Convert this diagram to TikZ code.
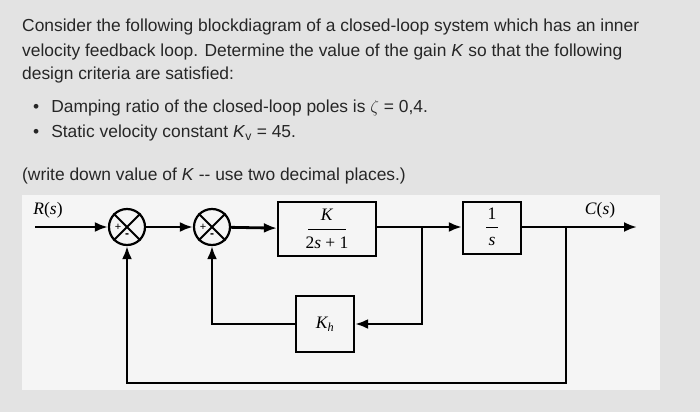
\documentclass[tikz,border=0pt]{standalone}
\usepackage{fontspec}
\setmainfont{Liberation Sans}
\newfontfamily\serifit{Liberation Serif}
\usetikzlibrary{arrows.meta}
\begin{document}
\begin{tikzpicture}[x=1pt,y=-1pt,
  txt/.style={anchor=west,inner sep=0pt,font=\fontsize{17.4}{20}\selectfont,text=black!85},
  blk/.style={draw,line width=2.2pt,inner sep=0pt},
  sig/.style={line width=2.8pt,-{Latex[length=13pt,width=10pt]}},
  sumc/.style={draw,circle,line width=2.2pt,minimum size=36pt,inner sep=0pt},
  lab/.style={font=\serifit\fontsize{17.5}{19}\selectfont}]
\useasboundingbox (0,0) rectangle (700,412);
\fill[gray!22] (0,0) rectangle (700,412);
\fill[gray!8] (22,195) rectangle (660,390);
\node[txt] (t1) at (22,27) {Consider the following blockdiagram of a closed-loop system which has an inner};
\node[txt] (t2) at (22,52) {velocity feedback loop. Determine the value of the gain \textit{K} so that the following};
\node[txt] (t3) at (22,75) {design criteria are satisfied:};
\node[txt] (b1) at (33,108) {•\hspace{12pt}Damping ratio of the closed-loop poles is \(\zeta\) = 0,4.};
\node[txt] (b2) at (33,133) {•\hspace{12pt}Static velocity constant \textit{K}\textsubscript{v} = 45.};
\node[txt] (t4) at (22,176) {(write down value of \textit{K} -{}- use two decimal places.)};
% diagram
\coordinate (in) at (35,227);
\node[sumc] (s1) at (127,227) {};
\node[sumc] (s2) at (212,227) {};
\foreach \s in {s1,s2}{
  \draw[line width=1.8pt] (\s.north west) -- (\s.south east) (\s.north east) -- (\s.south west);
  \node[font=\fontsize{11}{11}\selectfont] at ([xshift=-9pt]\s.center) {+};
  \node[font=\bfseries\fontsize{12}{12}\selectfont] at ([yshift=-9pt]\s.center) {-};
}
\node[blk,minimum width=98pt,minimum height=54pt] (G) at (327,229) {};
\node[lab] at (327,215) {\textit{K}};
\draw[line width=1pt] (308,229) -- (346,229);
\node[lab] at (327,243) {2\textit{s} + 1};
\node[blk,minimum width=58pt,minimum height=52pt] (I) at (492,228) {};
\node[lab] at (492,214) {1};
\draw[line width=1pt] (486,227) -- (498,227);
\node[lab] at (492,241) {\textit{s}};
\node[blk,minimum width=58pt,minimum height=56pt] (H) at (325,324) {};
\node[lab] at (325,324) {\textit{K\textsubscript{h}}};
\node[lab] at (48,210) {\textit{R}(\textit{s})};
\node[lab] at (600,210) {\textit{C}(\textit{s})};
\coordinate (b1p) at (422,227);
\coordinate (b2p) at (566,227);
\coordinate (out) at (637,227);
\draw[sig] (in) -- (s1);
\draw[sig] (s1) -- (s2);
\draw[sig] (s2) -- (G);
\draw[sig] (G.east |- b1p) -- (I.west |- b1p);
\draw[sig] (I.east |- b2p) -- (out);
\draw[sig] (b1p) |- (H.east);
\draw[sig] (H.west) -| (s2.south);
\draw[sig] (b2p) |- (127,383) -- (s1.south);
\end{tikzpicture}
\end{document}
